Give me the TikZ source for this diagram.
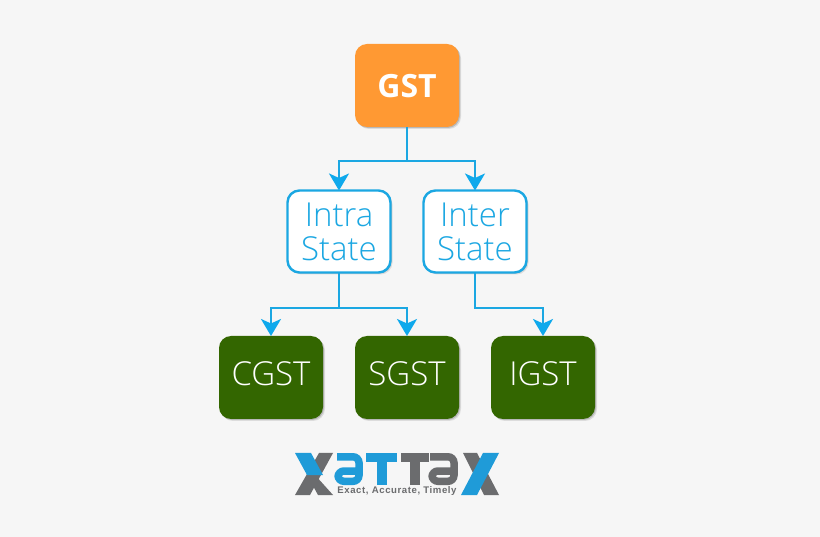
\documentclass[tikz,border=0pt]{standalone}
\usepackage{fontspec}
\setmainfont{Open Sans}
\newfontfamily\lightf{Open Sans Light}
\newfontfamily\tagf[LetterSpace=6]{Liberation Sans Bold}
\usetikzlibrary{arrows.meta,shadows}
\definecolor{bgc}{HTML}{F6F6F6}
\definecolor{orangec}{HTML}{FF9933}
\definecolor{greenc}{HTML}{336600}
\definecolor{bluec}{HTML}{1BA7E2}
\definecolor{tipc}{HTML}{0FA9EC}
\definecolor{logob}{HTML}{1F9BD8}
\definecolor{logog}{HTML}{6B6C6E}
\newcommand{\capline}[2]{\raisebox{#1}[0pt][0pt]{#2}}
\tikzset{
  softshadow/.style={
    drop shadow={shadow xshift=2pt,shadow yshift=-2pt,opacity=.10,fill=black},
    drop shadow={shadow xshift=1pt,shadow yshift=-1pt,opacity=.16,fill=black}},
  boxbase/.style={rounded corners=12pt,inner sep=0pt,outer sep=0pt,align=center,softshadow},
  topbox/.style={boxbase,fill=orangec,minimum width=104pt,minimum height=83pt,text=white,font=\fontsize{32}{34}\selectfont\bfseries},
  midbox/.style={boxbase,fill=white,draw=bluec,line width=2.4pt,minimum width=103pt,minimum height=82pt,text=bluec,font=\lightf\fontsize{33}{34}\selectfont},
  leafbox/.style={boxbase,fill=greenc,minimum width=104pt,minimum height=83pt,text=white,font=\lightf\fontsize{33}{34}\selectfont},
  conn/.style={draw=bluec,line width=2.4pt},
  tipconn/.style={conn,-{Stealth[length=17pt,width=20pt,inset=4.5pt,color=tipc]}},
  logoblue/.style={fill=logob},
  logogray/.style={fill=logog},
  logostrokeb/.style={draw=logob,line width=7.5pt,rounded corners=6pt},
  logostrokeg/.style={draw=logog,line width=7.5pt,rounded corners=6pt}
}
\begin{document}
\begin{tikzpicture}[x=1pt,y=-1pt]
\useasboundingbox (0,0) rectangle (820,537);
\fill[bgc] (0,0) rectangle (820,537);
\node[topbox] (gst) at (407,85.5) {\capline{-12.5pt}{GST}};
\node[midbox] (intra) at (339,231.5) {Intra\\State};
\node[midbox] (inter) at (475,231.5) {Inter\\State};
\node[leafbox] (cgst) at (271,377.5) {\capline{-8.5pt}{CGST}};
\node[leafbox] (sgst) at (407,377.5) {\capline{-8.5pt}{SGST}};
\node[leafbox] (igst) at (543,377.5) {\capline{-8.5pt}{IGST}};
\coordinate (j1) at (407,161);
\coordinate (j2) at (339,308);
\coordinate (j3) at (475,308);
\draw[tipconn] (gst.south) -- (j1) -| (intra.north);
\draw[tipconn] (j1) -| (inter.north);
\draw[tipconn] (intra.south) -- (j2) -| (cgst.north);
\draw[tipconn] (j2) -| (sgst.north);
\draw[tipconn] (inter.south) -- (j3) -| (igst.north);
% logo
\fill[logogray] (319,453) -- (333,453) -- (310,495) -- (295,495) -- cycle;
\fill[logogray] (315,475) -- (333,495) -- (318,495) -- (307,475) -- cycle;
\fill[logoblue] (295,453) -- (311,453) -- (323,475) -- (307,475) -- cycle;
\draw[logostrokeb] (337,456.8) -- (359,456.8) -- (359,481.3) -- (338,481.3) -- (338,471) -- (359,471);
\fill[logoblue] (366,453) rectangle (397,462);
\fill[logoblue] (377,462) rectangle (387,485);
\fill[logogray] (401,453) rectangle (429,462);
\fill[logogray] (410,462) rectangle (420,485);
\draw[logostrokeg] (430,456.8) -- (454,456.8) -- (454,481.3) -- (432,481.3) -- (432,471) -- (454,471);
\fill[logogray] (463,453) -- (477,453) -- (499,495) -- (484,495) -- cycle;
\fill[logoblue] (483,453) -- (499,453) -- (477,495) -- (461,495) -- cycle;
\node[text=logog,inner sep=0pt,font=\tagf\fontsize{9.6}{10}\selectfont] (tag) at (397,491) {Exact, Accurate, Timely};
\end{tikzpicture}
\end{document}
